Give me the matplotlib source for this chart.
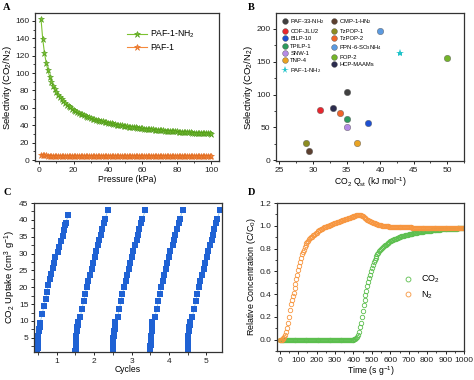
import numpy as np
import matplotlib
matplotlib.use("Agg")
import matplotlib.pyplot as plt
from matplotlib.ticker import MultipleLocator

plt.rcParams['font.family'] = ['Liberation Sans', 'DejaVu Sans']
plt.rcParams['mathtext.fontset'] = 'custom'
plt.rcParams['mathtext.rm'] = 'Liberation Sans'
plt.rcParams['mathtext.it'] = 'Liberation Sans:italic'
plt.rcParams['mathtext.default'] = 'regular'

# ---------------- Panel A data ----------------
pressure_kpa = list(range(1, 101))
sel_paf1nh2 = [162, 139, 123, 112, 103, 96, 90, 85.5, 81.5, 78,
               75, 72.3, 69.8, 67.6, 65.6, 63.8, 62.1, 60.6, 59.2, 57.9,
               56.7, 55.5, 54.5, 53.5, 52.5, 51.6, 50.8, 50.0, 49.2, 48.5,
               47.8, 47.2, 46.6, 46.0, 45.4, 44.9, 44.4, 43.9, 43.4, 43.0,
               42.5, 42.1, 41.7, 41.3, 40.9, 40.6, 40.2, 39.9, 39.6, 39.2,
               38.9, 38.6, 38.3, 38.1, 37.8, 37.5, 37.3, 37.0, 36.8, 36.5,
               36.3, 36.1, 35.9, 35.7, 35.5, 35.3, 35.1, 34.9, 34.7, 34.5,
               34.3, 34.2, 34.0, 33.8, 33.7, 33.5, 33.4, 33.2, 33.1, 32.9,
               32.8, 32.6, 32.5, 32.4, 32.2, 32.1, 32.0, 31.8, 31.7, 31.6,
               31.5, 31.4, 31.2, 31.1, 31.0, 30.9, 30.8, 30.7, 30.6, 30.5]
sel_paf1 = [5.6, 5.5, 5.4, 5.4, 5.3, 5.3, 5.3, 5.2, 5.2, 5.2,
            5.2, 5.2, 5.2, 5.1, 5.1, 5.1, 5.1, 5.1, 5.1, 5.1,
            5.1, 5.1, 5.1, 5.1, 5.1, 5.1, 5.0, 5.0, 5.0, 5.0,
            5.0, 5.0, 5.0, 5.0, 5.0, 5.0, 5.0, 5.0, 5.0, 5.0,
            5.0, 5.0, 5.0, 5.0, 5.0, 5.0, 5.0, 5.0, 5.0, 5.0,
            5.0, 5.0, 5.0, 5.0, 5.0, 5.0, 5.0, 5.0, 5.0, 5.0,
            5.0, 5.0, 5.0, 5.0, 5.0, 5.0, 5.0, 5.0, 5.0, 5.0,
            5.0, 5.0, 5.0, 5.0, 5.0, 5.0, 5.0, 5.0, 5.0, 5.0,
            5.0, 5.0, 5.0, 5.0, 5.0, 5.0, 5.0, 5.0, 5.0, 5.0,
            5.0, 5.0, 5.0, 5.0, 5.0, 5.0, 5.0, 5.0, 5.0, 5.0]

# ---------------- Panel B data ----------------
materials = ['PAF-33-NH$_2$', 'COF-JLU2', 'BILP-10', 'TPILP-1', 'SNW-1', 'TNP-4', 'PAF-1-NH$_2$',
             'CMP-1-HN$_2$', 'TzPOP-1', 'TzPOP-2', 'PPN-6-SO$_3$NH$_4$', 'POP-2', 'HCP-MAAMs']
qst = [35.0, 31.0, 38.2, 35.0, 35.0, 36.5, 43.0,
       29.4, 29.0, 34.0, 40.0, 50.0, 33.0]
selectivity = [104, 77, 57, 63, 50, 27, 163,
               14, 27, 72, 196, 155, 80]
mat_colors = ['#404040', '#e8262e', '#1e50d2', '#2e9a5e', '#b58be6', '#e9a322', '#22c3c9',
              '#5c4030', '#8c8c22', '#f0642a', '#5b9ae0', '#74b42a', '#2c2c4e']

# ---------------- Panel C data ----------------
cycle_starts = [0.5, 1.5, 2.5, 3.5, 4.5]
c1_dx = [-0.02, -0.018, -0.015, -0.013, -0.01, -0.008, -0.005, -0.003, 0.0, 0.002,
         0.03, 0.035, 0.04, 0.045, 0.05,
         0.11, 0.15, 0.2, 0.235, 0.27, 0.31, 0.35, 0.39, 0.43, 0.46, 0.52, 0.56,
         0.6, 0.66, 0.69, 0.73, 0.74, 0.81]
c1_uptake = [1.0, 1.5, 2.0, 2.5, 3.0, 3.5, 4.0, 4.5, 5.0, 5.5,
             7.0, 7.6, 8.2, 8.8, 9.4,
             12.0, 14.3, 16.5, 18.6, 20.6, 22.5, 24.0, 25.7, 27.2, 29.0, 30.5, 32.0,
             33.6, 35.2, 37.0, 38.6, 39.2, 41.4]
cn_dx = [0.0, 0.002, 0.004, 0.006, 0.008, 0.01, 0.012, 0.014, 0.016, 0.018,
         0.04, 0.045, 0.05, 0.055, 0.06,
         0.13, 0.17, 0.22, 0.255, 0.3, 0.34, 0.38, 0.43, 0.46, 0.51, 0.54, 0.6,
         0.64, 0.67, 0.71, 0.76, 0.79, 0.87]
cn_uptake = [1.0, 1.5, 2.0, 2.5, 3.0, 3.5, 4.0, 4.5, 5.0, 5.5,
             7.0, 7.6, 8.2, 8.8, 9.6,
             11.2, 13.6, 15.8, 18.0, 20.0, 21.8, 23.6, 25.4, 27.2, 29.0, 30.7, 32.4,
             34.0, 35.6, 37.3, 39.0, 40.2, 43.0]

# ---------------- Panel D data ----------------
time_s = list(range(0, 1001, 5))
conc_n2 = [0.0, 0.0, 0.0, 0.005, 0.01, 0.02, 0.04, 0.07, 0.1, 0.15,
           0.2, 0.26, 0.31, 0.35, 0.38, 0.41, 0.45, 0.49, 0.53, 0.57,
           0.61, 0.65, 0.68, 0.72, 0.75, 0.77, 0.79, 0.81, 0.83, 0.845,
           0.86, 0.87, 0.88, 0.89, 0.90, 0.905, 0.915, 0.92, 0.93, 0.935,
           0.94, 0.95, 0.955, 0.96, 0.965, 0.97, 0.975, 0.98, 0.985, 0.99,
           0.99, 0.995, 0.998, 1.0, 1.003, 1.007, 1.01, 1.015, 1.018, 1.021,
           1.024, 1.027, 1.03, 1.033, 1.036, 1.039, 1.042, 1.045, 1.048, 1.05,
           1.053, 1.056, 1.06, 1.063, 1.066, 1.069, 1.072, 1.075, 1.078, 1.081,
           1.084, 1.087, 1.09, 1.092, 1.094, 1.095, 1.095, 1.094, 1.091, 1.087,
           1.082, 1.077, 1.072, 1.066, 1.061, 1.055, 1.05, 1.045, 1.04, 1.035,
           1.031, 1.027, 1.023, 1.02, 1.017, 1.014, 1.012, 1.01, 1.008, 1.006,
           1.004, 1.002, 1.0, 0.999, 0.998, 0.997, 0.996, 0.995, 0.994, 0.993,
           0.992, 0.992, 0.991, 0.991, 0.99, 0.99, 0.99, 0.989, 0.989, 0.989,
           0.988, 0.988, 0.988, 0.987, 0.987, 0.987, 0.986, 0.986, 0.986, 0.985,
           0.985, 0.985, 0.985, 0.985, 0.984, 0.984, 0.984, 0.984, 0.984, 0.983,
           0.983, 0.983, 0.983, 0.983, 0.983, 0.982, 0.982, 0.982, 0.982, 0.982,
           0.982, 0.982, 0.982, 0.981, 0.981, 0.981, 0.981, 0.981, 0.981, 0.981,
           0.981, 0.981, 0.981, 0.981, 0.98, 0.98, 0.98, 0.98, 0.98, 0.98,
           0.98, 0.98, 0.98, 0.98, 0.98, 0.98, 0.98, 0.98, 0.98, 0.98,
           0.98, 0.98, 0.98, 0.98, 0.98, 0.98, 0.98, 0.98, 0.98, 0.98, 0.98]
conc_co2 = [0, 0, 0, 0, 0, 0, 0, 0, 0, 0, 0, 0, 0, 0, 0, 0, 0, 0, 0, 0,
            0, 0, 0, 0, 0, 0, 0, 0, 0, 0, 0, 0, 0, 0, 0, 0, 0, 0, 0, 0,
            0, 0, 0, 0, 0, 0, 0, 0, 0, 0, 0, 0, 0, 0, 0, 0, 0, 0, 0, 0,
            0, 0, 0, 0, 0, 0, 0, 0, 0, 0, 0, 0, 0, 0, 0, 0, 0, 0, 0, 0, 0,
            0.002, 0.005, 0.01, 0.02, 0.04, 0.07, 0.11, 0.15, 0.2, 0.25,
            0.3, 0.35, 0.39, 0.43, 0.47, 0.51, 0.54, 0.57, 0.6, 0.63,
            0.655, 0.68, 0.7, 0.72, 0.735, 0.75, 0.765, 0.775, 0.785, 0.795,
            0.805, 0.813, 0.82, 0.828, 0.835, 0.841, 0.847, 0.853, 0.858, 0.863,
            0.868, 0.872, 0.876, 0.88, 0.884, 0.888, 0.891, 0.894, 0.897, 0.9,
            0.903, 0.906, 0.908, 0.911, 0.913, 0.916, 0.918, 0.92, 0.922, 0.924,
            0.926, 0.928, 0.93, 0.932, 0.934, 0.935, 0.937, 0.939, 0.94, 0.942,
            0.943, 0.945, 0.946, 0.947, 0.949, 0.95, 0.951, 0.952, 0.953, 0.954,
            0.955, 0.956, 0.957, 0.958, 0.959, 0.96, 0.961, 0.962, 0.963, 0.964,
            0.965, 0.966, 0.966, 0.967, 0.968, 0.968, 0.969, 0.97, 0.97, 0.971,
            0.971, 0.972, 0.972, 0.973, 0.973, 0.974, 0.974, 0.975, 0.975, 0.976,
            0.976, 0.976, 0.977, 0.977, 0.977, 0.978, 0.978, 0.978, 0.979, 0.979]

# ---------------- Figure ----------------
W, H = 474, 380
fig = plt.figure(figsize=(W / 100, H / 100), dpi=100)

def ax_px(l, r, t, b):
    return fig.add_axes([l / W, 1 - b / H, (r - l) / W, (b - t) / H])

TICK_FS = 6.0
LAB_FS = 6.2
YLAB_FS = 6.8
SPINE_C = '#333333'

def style(ax):
    for s in ax.spines.values():
        s.set_linewidth(0.9)
        s.set_color(SPINE_C)
    ax.tick_params(which='major', direction='out', length=2.5, width=0.7,
                   labelsize=TICK_FS, pad=1.5, colors='#222222')
    ax.tick_params(which='minor', direction='out', length=1.5, width=0.6, colors='#222222')
    ax.tick_params(top=False, right=False, which='both')

def panel_label(x, y, s):
    fig.text(x / W, 1 - y / H, s, fontsize=7.5, fontweight='bold',
             family='Liberation Serif', va='top', ha='left')

# Panel A
axA = ax_px(35, 219, 13, 161)
axA.plot(pressure_kpa, sel_paf1nh2, '-', color='#7cc230', lw=0.8, marker='*',
         markersize=4.5, markerfacecolor='#78c030', markeredgecolor='#4e9a18',
         markeredgewidth=0.4, label='PAF-1-NH$_2$')
axA.plot(pressure_kpa, sel_paf1, '-', color='#f58a3c', lw=0.8, marker='*',
         markersize=4.5, markerfacecolor='#f5873a', markeredgecolor='#e06a20',
         markeredgewidth=0.4, label='PAF-1')
axA.set_xlim(-2.5, 104.5)
axA.set_ylim(-1, 169)
axA.xaxis.set_major_locator(MultipleLocator(20))
axA.xaxis.set_minor_locator(MultipleLocator(10))
axA.yaxis.set_major_locator(MultipleLocator(20))
axA.yaxis.set_minor_locator(MultipleLocator(10))
axA.set_xlabel('Pressure (kPa)', fontsize=LAB_FS, labelpad=1.0)
axA.set_ylabel('Selectivity (CO$_2$/N$_2$)', fontsize=YLAB_FS, labelpad=1.0)
style(axA)
axA.legend(loc='upper left', bbox_to_anchor=(0.5, 0.9), frameon=False,
           fontsize=6.2, handlelength=2.3, handletextpad=0.35, labelspacing=0.3,
           borderaxespad=0.0, borderpad=0.0)

# Panel B
axB = ax_px(276, 464, 13, 161)
handles = []
for name, x, y, c in zip(materials, qst, selectivity, mat_colors):
    if name.startswith('PAF-1-NH'):
        h, = axB.plot([x], [y], linestyle='none', marker='*', markersize=6,
                      color=c, markeredgewidth=0, label=name)
    else:
        h, = axB.plot([x], [y], linestyle='none', marker='o', markersize=4.6,
                      markerfacecolor=c, markeredgecolor='#555555',
                      markeredgewidth=0.3, label=name)
    handles.append(h)
axB.set_xlim(24.5, 52.5)
axB.set_ylim(-1, 224)
axB.xaxis.set_major_locator(MultipleLocator(5))
axB.xaxis.set_minor_locator(MultipleLocator(2.5))
axB.yaxis.set_major_locator(MultipleLocator(50))
axB.yaxis.set_minor_locator(MultipleLocator(25))
axB.set_xlabel('CO$_2$ Q$_{st}$ (kJ mol$^{-1}$)', fontsize=LAB_FS, labelpad=1.0)
axB.set_ylabel('Selectivity (CO$_2$/N$_2$)', fontsize=YLAB_FS, labelpad=1.0)
style(axB)
axB.legend(handles=handles, loc='upper left', ncol=2, frameon=False, fontsize=4.2,
           handlelength=1.0, handletextpad=0.5, labelspacing=0.4, columnspacing=1.0,
           markerscale=0.9, borderaxespad=0.0, borderpad=0.0,
           bbox_to_anchor=(0.03, 0.97))

# Panel C
axC = ax_px(34, 222, 203, 352)
for i, x0 in enumerate(cycle_starts):
    dx = c1_dx if i == 0 else cn_dx
    yy = c1_uptake if i == 0 else cn_uptake
    xs = [x0 + d for d in dx]
    axC.plot(xs, yy, '-', color='#8fc4f0', lw=0.6, zorder=1)
    axC.plot(xs, yy, linestyle='none', marker='s', markersize=4.1,
             color='#1f62d4', markeredgewidth=0, zorder=2)
axC.set_xlim(0.39, 5.42)
axC.set_ylim(0.8, 45)
axC.xaxis.set_major_locator(MultipleLocator(1))
axC.xaxis.set_minor_locator(MultipleLocator(0.5))
axC.yaxis.set_minor_locator(MultipleLocator(2.5))
axC.set_yticks([5, 10, 15, 20, 25, 30, 35, 40, 45])
axC.set_xlabel('Cycles', fontsize=LAB_FS, labelpad=0.5)
axC.set_ylabel('CO$_2$ Uptake (cm$^3$ g$^{-1}$)', fontsize=YLAB_FS, labelpad=1.0)
style(axC)
axC.tick_params(which='minor', length=2.5)

# Panel D
axD = ax_px(277, 464, 203, 351)
axD.plot(time_s, conc_co2, linestyle='none', marker='o', markersize=3.2,
         markerfacecolor='none', markeredgecolor='#5cbf4e', markeredgewidth=0.6,
         label='CO$_2$')
axD.plot(time_s, conc_n2, linestyle='none', marker='o', markersize=3.2,
         markerfacecolor='none', markeredgecolor='#f7963f', markeredgewidth=0.6,
         label='N$_2$')
axD.set_xlim(-15, 1000)
axD.set_ylim(-0.1, 1.2)
axD.xaxis.set_major_locator(MultipleLocator(100))
axD.xaxis.set_minor_locator(MultipleLocator(50))
axD.yaxis.set_minor_locator(MultipleLocator(0.1))
axD.set_yticks([0.0, 0.2, 0.4, 0.6, 0.8, 1.0, 1.2])
axD.set_yticklabels(['0.0', '0.2', '0.4', '0.6', '0.8', '1.0', '1.2'])
axD.set_xlabel('Time (s g$^{-1}$)', fontsize=LAB_FS, labelpad=0.5)
axD.set_ylabel('Relative Concentration (C/C$_0$)', fontsize=6.4, labelpad=1.0)
style(axD)
axD.legend(loc='center left', bbox_to_anchor=(0.63, 0.43), frameon=False,
           fontsize=6.5, handlelength=1.2, handletextpad=0.8, labelspacing=0.45,
           markerscale=1.1)

panel_label(3, 3, 'A')
panel_label(248, 3, 'B')
panel_label(3, 188, 'C')
panel_label(248, 188, 'D')

fig.savefig('out.png', dpi=100)
